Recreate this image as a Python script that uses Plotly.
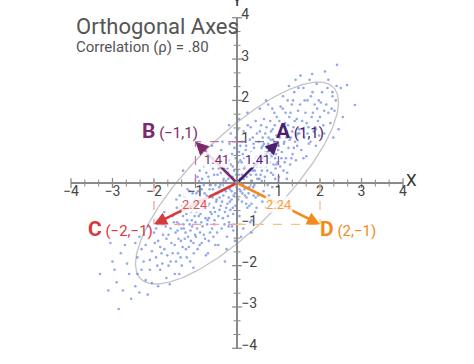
import numpy as np
import plotly.graph_objects as go

# ---------------- data ----------------
tick_values = [-4, -3, -2, -1, 1, 2, 3, 4]
tick_labels = ["\u22124", "\u22123", "\u22122", "\u22121", "1", "2", "3", "4"]
minor_steps = [1/3, 2/3]

vec_names = ["A", "B", "C", "D"]
vec_x = [1, -1, -2, 2]
vec_y = [1, 1, -1, -1]
vec_len_labels = ["1.41", "1.41", "2.24", "2.24"]
vec_colors = ["#4a1f6e", "#7d2a6c", "#d63a3a", "#f28a1c"]
vec_label_colors = ["#4a1f6e", "#7d2a6c", "#e05050", "#f5a03a"]
dash_colors = ["#8a6aa6", "#c07aaa", "#f2a0a0", "#f8c286"]

ellipse_major = 3.28
ellipse_minor = 1.095
ellipse_angle_deg = 45

pts_x = [
 -3.0,-2.8,-2.9,-2.6,-2.7,-3.1,-2.55,-2.65,-2.95,-2.75,
 -2.4,-2.3,-2.2,-2.45,-2.1,-2.05,-2.35,-2.15,-2.25,-2.4,-2.0,-2.1,-2.3,-2.2,-2.45,-2.05,-2.15,-2.35,
 -1.95,-1.9,-1.85,-1.8,-1.75,-1.7,-1.65,-1.6,-1.55,-1.5,-1.95,-1.9,-1.85,-1.8,-1.75,-1.7,-1.65,-1.6,-1.55,-1.5,
 -1.98,-1.88,-1.78,-1.68,-1.58,-1.52,-1.62,-1.72,-1.82,-1.92,
 -1.48,-1.45,-1.42,-1.4,-1.38,-1.35,-1.33,-1.3,-1.28,-1.25,-1.23,-1.2,-1.18,-1.15,-1.13,-1.1,-1.08,-1.05,-1.03,-1.0,
 -1.47,-1.44,-1.41,-1.37,-1.34,-1.31,-1.27,-1.24,-1.21,-1.17,-1.14,-1.11,-1.07,-1.04,-1.02,-1.46,-1.39,-1.32,-1.26,-1.19,
 -1.12,-1.06,-1.01,-1.36,-1.29,-1.22,-1.16,-1.09,-1.43,-1.05,
 -0.98,-0.96,-0.94,-0.92,-0.9,-0.88,-0.86,-0.84,-0.82,-0.8,-0.78,-0.76,-0.74,-0.72,-0.7,-0.68,-0.66,-0.64,-0.62,-0.6,
 -0.58,-0.56,-0.54,-0.52,-0.5,-0.97,-0.95,-0.93,-0.91,-0.89,-0.87,-0.85,-0.83,-0.81,-0.79,-0.77,-0.75,-0.73,-0.71,-0.69,
 -0.67,-0.65,-0.63,-0.61,-0.59,-0.57,-0.55,-0.53,-0.51,-0.99,-0.9,-0.8,-0.7,-0.6,-0.55,-0.65,-0.75,-0.85,-0.95,-0.52,
 -0.58,-0.68,-0.78,-0.88,-0.98,
 -0.49,-0.47,-0.45,-0.43,-0.41,-0.39,-0.37,-0.35,-0.33,-0.31,-0.29,-0.27,-0.25,-0.23,-0.21,-0.19,-0.17,-0.15,-0.13,-0.11,
 -0.09,-0.07,-0.05,-0.03,-0.01,-0.48,-0.46,-0.44,-0.42,-0.4,-0.38,-0.36,-0.34,-0.32,-0.3,-0.28,-0.26,-0.24,-0.22,-0.2,
 -0.18,-0.16,-0.14,-0.12,-0.1,-0.08,-0.06,-0.04,-0.02,-0.45,-0.35,-0.25,-0.15,-0.05,-0.4,-0.3,-0.2,-0.1,-0.03,-0.12,
 -0.22,-0.32,-0.42,-0.47,-0.37,-0.27,-0.17,-0.07,-0.09,-0.19,-0.29,-0.39,-0.49,-0.13,-0.23,
 0.01,0.03,0.05,0.07,0.09,0.11,0.13,0.15,0.17,0.19,0.21,0.23,0.25,0.27,0.29,0.31,0.33,0.35,0.37,0.39,
 0.41,0.43,0.45,0.47,0.49,0.02,0.04,0.06,0.08,0.1,0.12,0.14,0.16,0.18,0.2,0.22,0.24,0.26,0.28,0.3,
 0.32,0.34,0.36,0.38,0.4,0.42,0.44,0.46,0.48,0.05,0.15,0.25,0.35,0.45,0.1,0.2,0.3,0.4,0.47,0.12,
 0.22,0.32,0.42,0.03,0.13,0.23,0.33,0.43,0.08,0.18,0.28,0.38,0.48,0.06,0.16,
 0.5,0.52,0.54,0.56,0.58,0.6,0.62,0.64,0.66,0.68,0.7,0.72,0.74,0.76,0.78,0.8,0.82,0.84,0.86,0.88,
 0.9,0.92,0.94,0.96,0.98,0.51,0.53,0.55,0.57,0.59,0.61,0.63,0.65,0.67,0.69,0.71,0.73,0.75,0.77,0.79,
 0.81,0.83,0.85,0.87,0.89,0.91,0.93,0.95,0.97,0.99,0.55,0.65,0.75,0.85,0.95,0.6,0.7,0.8,0.9,0.62,
 0.72,0.82,0.92,0.57,0.87,
 1.0,1.02,1.04,1.06,1.08,1.1,1.12,1.14,1.16,1.18,1.2,1.22,1.24,1.26,1.28,1.3,1.32,1.34,1.36,1.38,
 1.4,1.42,1.44,1.46,1.48,1.01,1.03,1.05,1.07,1.09,1.11,1.13,1.15,1.17,1.19,1.21,1.23,1.25,1.27,1.29,
 1.31,1.33,1.35,1.37,1.39,1.41,1.43,1.45,1.47,1.49,
 1.5,1.52,1.55,1.57,1.6,1.62,1.65,1.67,1.7,1.72,1.75,1.77,1.8,1.82,1.85,1.87,1.9,1.92,1.95,1.97,
 1.53,1.58,1.63,1.68,1.73,1.78,1.83,1.88,1.93,1.98,
 2.0,2.05,2.1,2.15,2.2,2.25,2.3,2.35,2.4,2.45,2.02,2.08,2.18,2.28,2.38,2.3,2.12,2.32,
 1.9,2.1,2.65,2.84,2.41,1.81,1.7,2.2,2.55,2.5,
 -3.3,-3.05,-2.85,0.7,1.2,-0.6,-1.3,0.35,-0.2,1.6,
]
pts_y = [
 -1.9,-1.7,-2.4,-2.2,-1.5,-2.6,-2.8,-1.95,-2.1,-2.6,
 -1.8,-2.1,-1.5,-2.5,-1.86,-2.42,-1.3,-2.7,-1.9,-2.2,-1.2,-2.1,-1.6,-2.35,-1.45,-1.65,-1.05,-2.65,
 -1.8,-1.4,-2.1,-1.0,-1.6,-2.3,-1.25,-1.9,-0.8,-1.5,-1.1,-2.5,-1.55,-1.95,-0.7,-1.35,-2.0,-1.1,-1.7,-2.2,
 -1.45,-0.9,-1.25,-1.75,-1.45,-0.95,-2.45,-1.05,-1.7,-2.0,
 -1.2,-0.6,-1.7,-1.0,-0.3,-1.4,-2.0,-0.8,-1.1,-0.5,-1.6,-0.9,-1.3,-0.2,-1.9,-0.7,-1.05,-1.45,-0.4,-0.95,
 -1.9,-0.95,-1.35,-0.7,-1.1,-1.55,-0.35,-1.2,-1.8,-0.6,-1.0,-1.4,-0.25,-1.7,-0.8,-0.4,-2.2,-0.55,-1.35,-0.15,
 -1.15,-0.6,-1.25,-1.8,-1.0,-0.75,-1.55,-0.9,-1.15,-2.05,
 -0.5,-1.1,-0.2,-0.8,-1.5,-0.35,-0.95,0.1,-0.65,-1.25,-0.4,-0.85,0.25,-1.0,-0.55,-1.4,-0.15,-0.7,-0.3,-1.1,
 0.35,-0.6,-0.9,-0.05,-0.45,-0.7,-1.6,-0.45,0.05,-1.2,-0.6,-0.15,-1.05,-0.5,0.4,-1.35,-0.65,-0.3,-0.9,0.15,
 -0.5,-1.2,-0.05,-0.75,-0.35,-1.3,0.2,-0.7,-0.25,-1.3,0.3,-0.05,-1.7,0.6,-1.0,0.45,-1.75,-1.45,0.15,-1.5,
 -0.15,-0.85,-0.25,-0.75,-0.25,
 -0.4,0.2,-0.8,-0.1,0.5,-0.55,-1.1,0.0,-0.3,0.35,-0.7,-0.2,0.7,-0.5,0.1,-0.95,-0.15,0.45,-0.4,0.15,
 -0.75,0.3,-0.25,0.6,-0.1,-1.2,-0.25,0.35,-0.65,-0.05,0.8,-0.45,-0.85,0.1,-0.15,0.55,-0.6,-1.3,0.25,-0.35,
 0.95,-0.65,0.0,-1.05,0.4,-0.3,0.85,-0.55,0.2,-1.5,1.0,-1.6,1.2,-1.4,0.65,-1.0,0.55,-0.6,1.1,0.7,
 -0.8,0.45,-0.35,0.6,-0.2,0.05,-0.45,0.05,-1.15,1.4,-1.9,0.25,0.0,-0.2,0.35,
 0.3,-0.4,0.75,0.1,-0.2,0.5,1.0,-0.05,0.35,-0.3,0.8,0.15,-0.6,0.45,-0.1,1.05,0.2,-0.5,0.5,-0.1,
 0.85,0.3,-0.35,0.65,0.1,1.3,0.2,-0.8,0.55,0.0,-0.45,0.7,1.25,-0.15,0.4,-0.5,0.6,1.4,-0.25,0.3,
 -0.95,0.75,0.05,1.1,-0.3,0.45,-0.7,0.2,1.2,1.55,-1.1,1.7,-1.2,1.5,-1.3,1.0,-0.55,0.95,-0.6,0.2,
 0.9,0.55,-0.05,0.5,-0.25,-0.35,1.35,0.6,0.9,0.6,0.0,0.3,0.4,-0.15,0.1,
 0.45,1.0,0.1,0.7,1.4,0.3,0.9,-0.2,0.55,1.2,0.4,0.85,-0.05,1.1,0.6,1.5,0.25,0.8,1.3,0.45,
 1.0,0.1,0.7,1.6,0.5,-0.3,0.6,1.25,0.2,0.85,-0.45,0.5,1.55,0.15,0.75,1.35,0.3,0.95,-0.3,0.5,
 1.05,0.65,1.8,0.2,0.9,1.4,0.35,1.15,0.0,0.8,1.8,0.95,1.9,-0.1,0.45,0.05,2.0,0.7,1.7,1.1,
 0.55,1.25,0.6,0.4,1.05,
 0.9,1.5,0.4,1.2,0.75,1.8,0.3,1.0,1.45,0.6,1.25,2.0,0.85,1.6,0.45,1.1,1.9,0.7,1.35,2.2,
 1.0,0.55,1.55,1.2,2.3,0.15,1.1,1.85,0.6,1.35,2.1,0.95,0.5,1.7,1.1,0.25,1.4,2.35,1.05,1.7,
 0.6,1.25,2.0,0.85,1.5,2.5,1.15,0.9,1.75,1.3,
 1.2,1.9,0.8,1.5,2.3,1.1,1.7,0.65,2.0,1.35,2.5,1.0,1.6,2.2,1.25,1.9,0.9,2.4,1.5,2.0,
 2.6,1.3,2.0,1.45,0.95,2.1,1.7,1.35,1.8,1.15,
 1.6,2.2,1.2,1.9,2.5,1.45,2.1,1.75,2.35,1.3,1.95,1.4,2.3,1.8,2.0,2.2,2.7,1.1,
 1.3,1.75,2.37,1.89,2.86,2.64,1.2,1.7,1.6,2.3,
 -2.2,-1.45,-3.05,-0.6,0.1,0.9,0.3,-0.9,-1.05,0.6,
]

# ---------------- figure ----------------
fig = go.Figure()

# ellipse (confidence ellipse, geometric shape from its parameters)
t = np.linspace(0, 2 * np.pi, 240)
ang = np.deg2rad(ellipse_angle_deg)
ex = ellipse_major * np.cos(t) * np.cos(ang) - ellipse_minor * np.sin(t) * np.sin(ang)
ey = ellipse_major * np.cos(t) * np.sin(ang) + ellipse_minor * np.sin(t) * np.cos(ang)
fig.add_trace(go.Scatter(x=ex, y=ey, mode="lines",
                         line=dict(color="#c4c4c4", width=1.3), hoverinfo="skip"))

# scatter cloud
fig.add_trace(go.Scatter(x=pts_x, y=pts_y, mode="markers",
                         marker=dict(size=2.6, color="rgba(70,110,225,0.6)"),
                         hoverinfo="skip"))

# axes lines
axis_col = "#8a8a8a"
fig.add_trace(go.Scatter(x=[-4, 4], y=[0, 0], mode="lines",
                         line=dict(color=axis_col, width=2), hoverinfo="skip"))
fig.add_trace(go.Scatter(x=[0, 0], y=[-4, 4], mode="lines",
                         line=dict(color=axis_col, width=2), hoverinfo="skip"))

# tick marks
minor = [v + s for v in range(-4, 4) for s in minor_steps]
fig.add_trace(go.Scatter(x=tick_values, y=[0] * len(tick_values), mode="markers",
                         marker=dict(symbol="line-ns", size=7, line=dict(color=axis_col, width=1.3)),
                         hoverinfo="skip"))
fig.add_trace(go.Scatter(x=minor, y=[0] * len(minor), mode="markers",
                         marker=dict(symbol="line-ns", size=5, line=dict(color=axis_col, width=1)),
                         hoverinfo="skip"))
fig.add_trace(go.Scatter(x=[0] * len(tick_values), y=tick_values, mode="markers",
                         marker=dict(symbol="line-ew", size=7, line=dict(color=axis_col, width=1.3)),
                         hoverinfo="skip"))
fig.add_trace(go.Scatter(x=[0] * len(minor), y=minor, mode="markers",
                         marker=dict(symbol="line-ew", size=5, line=dict(color=axis_col, width=1)),
                         hoverinfo="skip"))

# tick labels
lab_font = dict(family="Roboto", size=14, color="#444444")
fig.add_trace(go.Scatter(x=tick_values, y=[-0.24] * len(tick_values), mode="text",
                         text=tick_labels, textfont=lab_font, textposition="middle center",
                         hoverinfo="skip"))
fig.add_trace(go.Scatter(x=[0.1] * len(tick_values), y=[v + 0.05 for v in tick_values], mode="text",
                         text=tick_labels, textfont=lab_font, textposition="middle right",
                         hoverinfo="skip"))

annotations = []
shapes = []

# dashed projection lines
for vx, vy, dc in zip(vec_x, vec_y, dash_colors):
    shapes.append(dict(type="line", xref="x", yref="y", x0=vx, y0=0, x1=vx, y1=vy,
                       line=dict(color=dc, width=1.3, dash="dash")))
    shapes.append(dict(type="line", xref="x", yref="y", x0=0, y0=vy, x1=vx, y1=vy,
                       line=dict(color=dc, width=1.3, dash="dash")))

# arrows
for vx, vy, c in zip(vec_x, vec_y, vec_colors):
    annotations.append(dict(x=vx, y=vy, ax=0, ay=0, xref="x", yref="y", axref="x", ayref="y",
                            text="", showarrow=True, arrowhead=2, arrowsize=1.0,
                            arrowwidth=2.6, arrowcolor=c, standoff=0))

# length labels at midpoints
len_label_dy = [0.06, 0.06, -0.03, -0.03]
for vx, vy, lab, c, dy in zip(vec_x, vec_y, vec_len_labels, vec_label_colors, len_label_dy):
    annotations.append(dict(x=vx / 2, y=vy / 2 + dy, xref="x", yref="y", text=lab,
                            showarrow=False, font=dict(family="Roboto", size=13, color=c),
                            bgcolor="rgba(255,255,255,0.85)", borderpad=0))

# point labels
label_pos = [(0.9, 1.27, "left"), (-0.9, 1.27, "right"), (-1.97, -1.11, "right"), (1.96, -1.11, "left")]
for (lx, ly, anc), name, vx, vy, c in zip(label_pos, vec_names, vec_x, vec_y, vec_colors):
    sx = "\u2212" + str(abs(vx)) if vx < 0 else str(vx)
    sy = "\u2212" + str(abs(vy)) if vy < 0 else str(vy)
    txt = f"<b><span style='font-size:21px'>{name}</span></b> ({sx},{sy})"
    annotations.append(dict(x=lx, y=ly, xref="x", yref="y", text=txt, showarrow=False,
                            xanchor=anc, font=dict(family="Roboto", size=15, color=c)))

# axis names
annotations.append(dict(x=4.03, y=0.07, xref="x", yref="y", text="X", showarrow=False,
                        xanchor="left", font=dict(family="Roboto", size=17, color="#333333")))
annotations.append(dict(x=0, y=4.43, xref="x", yref="y", text="Y", showarrow=False,
                        yanchor="middle", font=dict(family="Roboto", size=17, color="#333333")))

# titles
annotations.append(dict(x=74 / 474, y=1 - 27 / 364, xref="paper", yref="paper",
                        text="Orthogonal Axes", showarrow=False, xanchor="left", yanchor="middle",
                        font=dict(family="Roboto", size=22, color="#555555")))
annotations.append(dict(x=74 / 474, y=1 - 47 / 364, xref="paper", yref="paper",
                        text="Correlation (\u03c1) = .80", showarrow=False, xanchor="left",
                        yanchor="middle", font=dict(family="Roboto", size=15, color="#555555")))

fig.update_layout(
    width=474, height=364,
    margin=dict(l=0, r=0, t=0, b=0),
    paper_bgcolor="white", plot_bgcolor="white",
    showlegend=False,
    xaxis=dict(range=[-5.71, 5.71], visible=False),
    yaxis=dict(range=[-4.38, 4.43], visible=False),
    shapes=shapes, annotations=annotations,
)

fig.write_html("out.html", config={"displayModeBar": False},
               post_script="document.body.style.margin='0px';")
